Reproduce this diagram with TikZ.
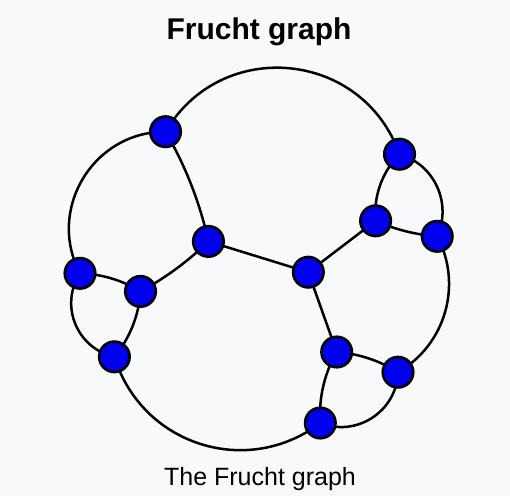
\documentclass[tikz,border=0pt]{standalone}
\usepackage{fontspec}
\setmainfont{Liberation Sans}
\usetikzlibrary{backgrounds}
\definecolor{colBack}{RGB}{248,249,250}
\definecolor{colVertex}{RGB}{0,0,238}
\definecolor{colEdge}{RGB}{0,0,0}
\tikzset{
  vertex/.style={
    circle, draw=colEdge, line width=2.6pt,
    fill=colVertex, minimum size=30.5pt, inner sep=0pt
  },
  edge/.style={
    draw=colEdge, line width=2.5pt
  },
  titleText/.style={
    font=\fontsize{30}{36}\selectfont\bfseries, text=black
  },
  captionText/.style={
    font=\fontsize{25}{30}\selectfont, text=black
  }
}
\begin{document}
\begin{tikzpicture}[x=1pt, y=1pt]
\useasboundingbox (0,0) rectangle (510,-496);

%% ==============================================================
%% Labels
%% ==============================================================
\node[titleText, anchor=base] (title) at (259,-39) {Frucht graph};
\node[captionText, anchor=base] (caption) at (260,-485) {The Frucht graph};

%% ==============================================================
%% Vertices
%% ==============================================================
\node[vertex] (vA) at (165.5,-131.7) {};
\node[vertex] (vB) at (399.5,-154.2) {};
\node[vertex] (vC) at (375.6,-220.8) {};
\node[vertex] (vD) at (437.2,-236.3) {};
\node[vertex] (vE) at (208.4,-241.4) {};
\node[vertex] (vF) at (308.3,-272.2) {};
\node[vertex] (vG) at (80,-273.3) {};
\node[vertex] (vH) at (140.5,-291.4) {};
\node[vertex] (vI) at (114.4,-356.8) {};
\node[vertex] (vJ) at (336.7,-352) {};
\node[vertex] (vK) at (398,-372.2) {};
\node[vertex] (vL) at (320.3,-423) {};

%% ==============================================================
%% Edges (behind the vertices)
%% ==============================================================
\begin{scope}[on background layer]
  \fill[colBack] (0,0) rectangle (510,-496);

  % outer arcs
  \draw[edge] (vA.center) to[bend left=65, looseness=1.2] (vB.center);
  \draw[edge] (vA.center) to[bend right=59, looseness=1.12] (vG.center);
  \draw[edge] (vB.center) to[bend left=49, looseness=1.03] (vD.center);
  \draw[edge] (vD.center) to[bend left=44, looseness=0.99] (vK.center);
  \draw[edge] (vL.center) to[bend right=55, looseness=1.08] (vK.center);
  \draw[edge] (vI.center) to[bend right=55, looseness=1.09] (vL.center);
  \draw[edge] (vG.center) to[bend right=55, looseness=1.09] (vI.center);

  % inner edges
  \draw[edge] (vA.center) to[bend left=9, looseness=0.86] (vE.center);
  \draw[edge] (vB.center) to[bend right=25, looseness=0.89] (vC.center);
  \draw[edge] (vC.center) to[bend right=10, looseness=0.86] (vD.center);
  \draw[edge] (vF.center) -- (vC.center);
  \draw[edge] (vE.center) -- (vF.center);
  \draw[edge] (vE.center) to[bend left=8, looseness=0.86] (vH.center);
  \draw[edge] (vF.center) -- (vJ.center);
  \draw[edge] (vG.center) to[bend left=15, looseness=0.86] (vH.center);
  \draw[edge] (vH.center) to[bend left=18, looseness=0.87] (vI.center);
  \draw[edge] (vJ.center) to[bend left=14, looseness=0.86] (vK.center);
  \draw[edge] (vJ.center) to[bend right=17, looseness=0.87] (vL.center);
\end{scope}

\end{tikzpicture}
\end{document}
